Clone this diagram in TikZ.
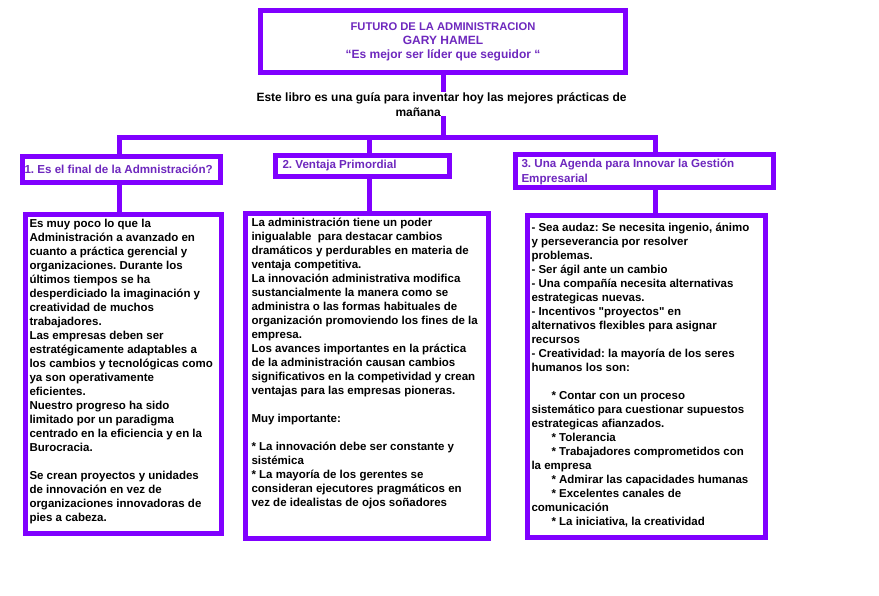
\documentclass[tikz,border=0pt]{standalone}
\usepackage{fontspec}
\setmainfont{Liberation Sans}
\frenchspacing
\definecolor{vborder}{RGB}{128,0,255}
\definecolor{vtext}{RGB}{110,40,190}
\begin{document}
\begin{tikzpicture}[x=1pt,y=-1pt,
  boxs/.style={draw=vborder,line width=5pt,inner sep=0pt,outer sep=0pt,anchor=north west},
  txt/.style={inner sep=0pt,outer sep=0pt,anchor=north west,align=left,font=\fontsize{12}{14}\selectfont\bfseries\frenchspacing},
  bodytxt/.style={txt,font=\fontsize{11.5}{14}\selectfont\bfseries\frenchspacing},
  headtxt/.style={txt,text=vtext,font=\fontsize{11.6}{14.5}\selectfont\bfseries\frenchspacing},
  conn/.style={draw=vborder,line width=5pt,line join=miter}]
\useasboundingbox (0,0) rectangle (879,595);
\fill[white] (0,0) rectangle (879,595);

% title
\node[boxs,minimum width=365pt,minimum height=62pt] (title) at (260.5,10.5) {};
\node[txt,anchor=north,align=center,text=vtext] (titletxt) at (443,20.2)
  {\strut{\fontsize{11.2}{14}\selectfont FUTURO DE LA ADMINISTRACION}\\GARY HAMEL\\“Es mejor ser líder que seguidor “};

% subtitle
\node[txt] (sub) at (256.5,91.5)
  {\strut Este libro es una guía para inventar hoy las mejores prácticas de\\[1pt]\hspace*{139pt}mañana};

% headers
\node[boxs,minimum width=198pt,minimum height=26pt] (h1) at (22.5,156.5) {};
\node[headtxt] (h1t) at (24.5,163.2) {\strut 1. Es el final de la Admnistración?};
\node[boxs,minimum width=174pt,minimum height=21pt] (h2) at (275.5,155.5) {};
\node[headtxt] (h2t) at (282.5,158.7) {\strut 2. Ventaja Primordial};
\node[boxs,minimum width=258pt,minimum height=33pt] (h3) at (515.5,154.5) {};
\node[headtxt] (h3t) at (521.5,157.5) {\strut 3. Una Agenda para Innovar la Gestión\\Empresarial};

% bodies
\node[boxs,minimum width=196pt,minimum height=319pt] (b1) at (25.5,214.5) {};
\node[bodytxt] (b1t) at (29.5,217.5) {\strut Es muy poco lo que la\\
Administración a avanzado en\\
cuanto a práctica gerencial y\\
organizaciones. Durante los\\
últimos tiempos se ha\\
desperdiciado la imaginación y\\
creatividad de muchos\\
trabajadores.\\
Las empresas deben ser\\
estratégicamente adaptables a\\
los cambios y tecnológicas como\\
ya son operativamente\\
eficientes.\\
Nuestro progreso ha sido\\
limitado por un paradigma\\
centrado en la eficiencia y en la\\
Burocracia.\\[14pt]
Se crean proyectos y unidades\\
de innovación en vez de\\
organizaciones innovadoras de\\
pies a cabeza.};

\node[boxs,minimum width=243pt,minimum height=325pt] (b2) at (245.5,213.5) {};
\node[bodytxt] (b2t) at (251.5,216.2) {\strut La administración tiene un poder\\
inigualable~ para destacar cambios\\
dramáticos y perdurables en materia de\\
ventaja competitiva.\\
La innovación administrativa modifica\\
sustancialmente la manera como se\\
administra o las formas habituales de\\
organización promoviendo los fines de la\\
empresa.\\
Los avances importantes en la práctica\\
de la administración causan cambios\\
significativos en la competividad y crean\\
ventajas para las empresas pioneras.\\[14pt]
Muy importante:\\[14pt]
* La innovación debe ser constante y\\
sistémica\\
* La mayoría de los gerentes se\\
consideran ejecutores pragmáticos en\\
vez de idealistas de ojos soñadores};

\node[boxs,minimum width=238pt,minimum height=322pt] (b3) at (527.5,215.5) {};
\node[bodytxt] (b3t) at (531.5,221.5) {\strut - Sea audaz: Se necesita ingenio, ánimo\\
y perseverancia por resolver\\
problemas.\\
- Ser ágil ante un cambio\\
- Una compañía necesita alternativas\\
estrategicas nuevas.\\
- Incentivos \textquotedbl proyectos\textquotedbl{} en\\
alternativos flexibles para asignar\\
recursos\\
- Creatividad: la mayoría de los seres\\
humanos los son:\\[14pt]
\hspace*{20pt}* Contar con un proceso\\
sistemático para cuestionar supuestos\\
estrategicas afianzados.\\
\hspace*{20pt}* Tolerancia\\
\hspace*{20pt}* Trabajadores comprometidos con\\
la empresa\\
\hspace*{20pt}* Admirar las capacidades humanas\\
\hspace*{20pt}* Excelentes canales de\\
comunicación\\
\hspace*{20pt}* La iniciativa, la creatividad};

% connectors
\coordinate (busL) at (119,137.5);
\coordinate (busM) at (369,137.5);
\coordinate (busR) at (655.5,137.5);
\draw[conn] (busL |- h1.north) -- (busL) -- (busR) -- (busR |- h3.north);
\draw[conn] (busM) -- (busM |- h2.north);
\draw[conn] (title.south) -- (title.south |- sub.north);
\draw[conn] (title.south |- sub.south) -- (title.south |- busM);
\draw[conn] (busL |- h1.south) -- (busL |- b1.north);
\draw[conn] (busM |- h2.south) -- (busM |- b2.north);
\draw[conn] (busR |- h3.south) -- (busR |- b3.north);
\end{tikzpicture}
\end{document}
